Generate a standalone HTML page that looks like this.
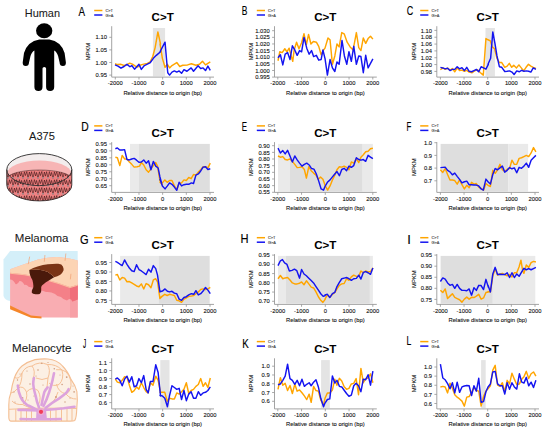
<!DOCTYPE html>
<html><head><meta charset="utf-8"><style>
html,body{margin:0;padding:0;background:#fff;}
svg{display:block;font-family:"Liberation Sans", sans-serif;}
</style></head><body>
<svg width="550" height="434" viewBox="0 0 550 434">
<rect width="550" height="434" fill="#fff"/>
<g id="human">
<text x="42.4" y="16.9" font-size="11" text-anchor="middle" fill="#1a1a1a" stroke="#1a1a1a" stroke-width="0.08" textLength="35.2" lengthAdjust="spacingAndGlyphs">Human</text>
<ellipse cx="44.2" cy="30.75" rx="8.15" ry="7.55" fill="#000"/>
<path d="M39.3,39.6 H49.3 Q61,41.5 64.6,53 L65.9,62.5 Q66,66 62.9,66 Q59.7,66 59.6,62.5 L58.1,56 Q56.6,51.5 54.2,50.5 V87 Q54.2,91 50.15,91 Q46.1,91 46.1,87 V68.4 Q46.1,66.9 44.3,66.9 Q42.5,66.9 42.5,68.4 V87 Q42.5,91 38.45,91 Q34.4,91 34.4,87 V50.5 Q32,51.5 30.5,56 L29,62.5 Q28.9,66 25.7,66 Q22.6,66 22.7,62.5 L24,53 Q27.6,41.5 39.3,39.6 Z" fill="#000"/>
</g>
<g id="a375">
<text x="42" y="139.7" font-size="11" text-anchor="middle" fill="#1a1a1a" stroke="#1a1a1a" stroke-width="0.08" textLength="25.9" lengthAdjust="spacingAndGlyphs">A375</text>
<defs>
<pattern id="cells" width="15" height="8" patternUnits="userSpaceOnUse" x="3" y="171">
<g fill="none" stroke="#3a1414" stroke-width="0.6" stroke-linejoin="miter">
<path d="M0,7.4 L1.4,0.6 L2.6,5 L3.6,1.4 L5,7.4 L6.4,0.8 L7.4,4.6 L8.8,0.5 L10,7.4 L11.4,1 L12.4,5.2 L13.6,0.7 L15,7.4"/>
</g>
<circle cx="5" cy="6.7" r="0.7" fill="#b4bcc6"/><circle cx="10" cy="6.7" r="0.7" fill="#b4bcc6"/><circle cx="0" cy="6.7" r="0.7" fill="#b4bcc6"/><circle cx="15" cy="6.7" r="0.7" fill="#b4bcc6"/>
</pattern>
<clipPath id="dishclip"><path d="M6.8,169.6 A32.5,16 0 0 0 71.8,169.6 V184.9 A32.5,16 0 0 1 6.8,184.9 Z"/></clipPath>
</defs>
<path d="M6.8,169.6 V184.9 A32.5,16 0 0 0 71.8,184.9 V169.6 Z" fill="#f08686"/>
<ellipse cx="39.3" cy="169.6" rx="32.5" ry="16" fill="#f3eded"/>
<ellipse cx="39.3" cy="173" rx="31.8" ry="12.4" fill="#f7b5b5"/>
<path d="M7.5,178.5 A31.8,8.5 0 0 1 71.1,178.5 A31.8,12 0 0 1 7.5,178.5 Z" fill="#ee7e7e"/>
<path d="M7.5,178.5 A31.8,8.5 0 0 1 71.1,178.5 A31.8,12 0 0 1 7.5,178.5 Z" fill="url(#cells)"/>
<path d="M7.5,178.5 A31.8,8.5 0 0 1 71.1,178.5" fill="none" stroke="#3a1a1a" stroke-width="0.6" opacity="0.8"/>
<path d="M6.8,169.6 A32.5,16 0 0 0 71.8,169.6 V184.9 A32.5,16 0 0 1 6.8,184.9 Z" fill="#f08282"/>
<g clip-path="url(#dishclip)">
<rect x="0" y="160" width="80" height="45" fill="url(#cells)"/>
</g>
<ellipse cx="39.3" cy="169.6" rx="32.5" ry="16" fill="none" stroke="#2a2a2a" stroke-width="0.9"/>
<path d="M6.8,169.6 V184.9 A32.5,16 0 0 0 71.8,184.9 V169.6" fill="none" stroke="#2a2a2a" stroke-width="0.9"/>
</g>
<g id="mel">
<text x="41.6" y="241.8" font-size="11.3" text-anchor="middle" fill="#1a1a1a" stroke="#1a1a1a" stroke-width="0.08" textLength="53.5" lengthAdjust="spacingAndGlyphs">Melanoma</text>
<path d="M10.1,251.1 H77.7 V265 L10.3,301 Q5,300.5 3.5,296 V259.5 Z" fill="#d4eff9"/>
<path d="M10.1,269.2 Q25,264 38,259.6 Q50,256.6 60,257.2 Q70,258.2 77.7,260.6 V317.4 H41 L31,316.2 L10.1,306.2 Z" fill="#f9adb2"/>
<path d="M70,287 L77.7,284.7 V317.4 H70 Z" fill="#f7a0a6"/>
<path d="M10.1,305.6 L31,315.6 L41.5,316.6 V318.4 L31,317.8 L10.1,309.2 Z" fill="#f5862a"/>
<path d="M10.1,272.7 Q25,273.5 38,277 Q45,279 50,280.4 Q60,283 70,287 L77.7,284.7 V299.4 L72.5,301.5 Q70,297 67,300.5 Q63,299.5 61,297 Q57,296.5 55,294 Q51,291.5 46,292 Q41,289.5 37,290.5 Q33,286.5 29,287 Q26,284 24.5,285 Q22,280.5 19.5,281 Q17.5,285 15.5,284 Q13,279.5 10.1,279.6 Z" fill="#f48088"/>
<path d="M70,287 L77.7,284.7 V299.4 L72.5,301.5 Q71.5,299 70,298.5 Z" fill="#f06e7a"/>
<path d="M10.1,269.2 Q25,264 38,259.6 Q50,256.6 60,257.2 Q70,258.2 77.7,260.6 V284.7 L70,287 Q60,283 50,280.4 Q45,279 38,277 Q25,273.5 10.1,272.7 Z" fill="#fcd4b4"/>
<path d="M10.1,272.7 Q25,273.5 38,277 Q45,279 50,280.4 Q60,283 70,287 L77.7,284.7 V285.8 L70,288 Q60,284 50,281.4 Q45,280 38,278 Q25,274.5 10.1,273.7 Z" fill="#fbc2a0"/>
<path d="M29.3,270 Q34,269.6 37.5,269.5 Q44,270 47.9,272.1 Q51.5,274.5 54.1,277.3 Q51,279 48.9,280.4 Q45.5,282 43.8,284 Q41.5,285.5 41.2,287.1 V291.3 Q40.8,293.5 39.6,293.9 Q37.5,294.4 35.5,294.2 Q32.5,294 31.8,292.8 Q31.6,290.5 32.4,289.2 Q33.6,287.5 33.4,286.1 Q33.2,282.5 32.4,279.9 Q31,277.5 30.3,275.7 Q29.3,273 29.3,270 Z" fill="#4a190b"/>
<path d="M29.3,270 Q33,267.5 37.5,266.4 Q43,264.8 47.9,264.3 Q54,263.6 58.3,263.8 Q62,264.2 62.9,266.4 Q63.8,268.5 63.5,270.5 Q62.5,273 60.3,274.7 Q57.5,276.5 54.1,277.3 Q51.5,274.5 47.9,272.1 Q44,270 37.5,269.5 Q34,269.6 29.3,270 Z" fill="#7a3315"/>
<g stroke="#f0a072" stroke-width="0.7" fill="none" stroke-linecap="round">
<path d="M28.3,263.8 L29.6,257"/><path d="M44.3,261.4 L44.9,255.4"/><path d="M65.1,260.4 L65.8,253.9"/><path d="M70.4,279 L70.9,274.2"/>
</g>
</g>
<g id="mcyte">
<text x="41.7" y="352.4" font-size="11.5" text-anchor="middle" fill="#1a1a1a" stroke="#1a1a1a" stroke-width="0.08" textLength="59.4" lengthAdjust="spacingAndGlyphs">Melanocyte</text>
<path d="M10.5,421.1 Q8.6,420.5 8.8,416 V405 Q8.6,398 10.8,393 Q12,385 14.5,377.5 Q17.5,370 22,366 Q28,361.5 35,359.6 Q42,358.6 48,359 Q57,359.8 62.5,366 Q67.5,371 71.3,379.9 Q75.5,385.5 76.9,391.5 Q77.8,400 76.8,408 Q76.5,418 74.8,420.4 Q73.5,421.1 70,421.1 Z" fill="#fcf0e4" stroke="#f4be92" stroke-width="1.1"/>
<g fill="none" stroke="#f4be92" stroke-width="0.95">
<path d="M9,409.3 Q40,407.5 76.8,408.5"/>
<path d="M15.8,409.3 V421 M21,409 V421 M26.5,408.8 V421 M31.5,408.6 V421 M50.5,408.4 V421 M56,408.5 V421 M61.5,408.6 V421 M67,408.8 V421 M72,409 V421"/>
<path d="M14.5,377.5 Q19.5,380 22,373 Q25,366.5 32,366 Q36,371 33,379"/>
<path d="M22,373 Q22,383 18,388 Q14,393 10.8,393"/>
<path d="M32,366 Q39,361 47.5,364.5 Q51,370 48,378 Q42,381 36,378"/>
<path d="M47.5,364.5 Q56,364 62,370 Q64.5,379 59,384.5 Q53,387 49,383"/>
<path d="M56.1,369.7 Q68,368 70.9,381 Q72,391 66,394 Q58,392 56.5,384"/>
<path d="M18,388 Q23.5,385 26.5,392 Q28,400 22.5,404.5 Q15.5,405 12,401"/>
<path d="M26.5,392 Q32,386 38,390.5 Q42,398 38.5,404.5"/>
<path d="M48,378 Q48,387 44.5,392.5 M66,394 Q70,399 76.5,399 M58,392 Q56,399 51.5,403.5 M22.5,404.5 Q28,407 31.5,408.6"/>
</g>
<g fill="#c88d6a" opacity="0.85">
<circle cx="17.5" cy="380" r="0.7"/><circle cx="27" cy="371" r="0.6"/><circle cx="38" cy="370" r="0.8"/><circle cx="41.8" cy="363.3" r="0.7"/><circle cx="54.3" cy="368.8" r="0.8"/>
<circle cx="66.7" cy="377.1" r="0.9"/><circle cx="62.1" cy="384.5" r="0.8"/><circle cx="52.9" cy="379.9" r="0.6"/><circle cx="74.1" cy="391.9" r="0.8"/><circle cx="70" cy="398" r="0.6"/>
<circle cx="14" cy="392" r="0.6"/><circle cx="30" cy="384" r="0.7"/><circle cx="43" cy="385" r="0.6"/><circle cx="22.5" cy="398" r="0.9"/><circle cx="34" cy="396" r="0.6"/>
<circle cx="56" cy="397" r="0.9"/><circle cx="65" cy="402" r="0.7"/><circle cx="15" cy="402" r="0.6"/><circle cx="48" cy="362.5" r="0.6"/><circle cx="36" cy="376" r="0.6"/>
<circle cx="20" cy="374" r="0.5"/><circle cx="60" cy="375" r="0.5"/><circle cx="28" cy="400" r="0.5"/><circle cx="47" cy="399" r="0.6"/><circle cx="73" cy="386" r="0.5"/>
</g>
<g fill="none" stroke="#dca2dd" stroke-width="2.6" stroke-linecap="round" stroke-linejoin="round">
<path d="M38,410.5 Q31,406.5 27.5,405.2 Q22.5,401.5 20.6,396.9 Q18.2,391.5 17.8,385.5"/>
<path d="M39,407.5 Q36.5,401 35.5,395.3 Q33.5,389 33.2,384 Q33.3,380.5 33.9,378"/>
<path d="M41.5,405 Q43,397 44.3,392.1 Q46,389 47.6,387.5"/>
<path d="M43.5,406 Q47,399 49.2,392.1 Q51.2,386 52.4,380.8 Q53.3,376.5 54,373.3"/>
<path d="M45.5,408 Q52,402.5 58.9,398.6 Q63.5,395.5 66.9,392.1 Q68,390.5 68.6,389.2"/>
<path d="M18.5,409.9 Q28,409.6 38.7,410.5"/>
<path d="M44.3,410 Q54,409.2 63.7,408.2 Q70,407.4 74.5,406.8"/>
<path d="M20.6,419 Q40,419.6 60.7,419"/>
</g>
<path d="M36.5,410 Q41,406.5 46,410 L47,420 H36 Z" fill="#dca2dd"/>
<circle cx="41" cy="411.8" r="3.4" fill="#eeaad0"/>
<circle cx="41" cy="411.8" r="2.1" fill="#f23c58"/>
</g>

<rect x="152.90" y="28.00" width="12.20" height="48.30" fill="#e4e4e4"/>
<path d="M111.70,26.20V77.10H214.00" fill="none" stroke="#939393" stroke-width="0.85"/>
<path d="M109.30,37.30H111.70" stroke="#939393" stroke-width="0.8"/>
<text transform="translate(106.90,39.45) scale(0.955,1)" x="0" y="0" font-size="6.1" text-anchor="end" fill="#111" stroke="#111" stroke-width="0.1">1.10</text>
<path d="M109.30,49.90H111.70" stroke="#939393" stroke-width="0.8"/>
<text transform="translate(106.90,52.05) scale(0.955,1)" x="0" y="0" font-size="6.1" text-anchor="end" fill="#111" stroke="#111" stroke-width="0.1">1.05</text>
<path d="M109.30,62.50H111.70" stroke="#939393" stroke-width="0.8"/>
<text transform="translate(106.90,64.65) scale(0.955,1)" x="0" y="0" font-size="6.1" text-anchor="end" fill="#111" stroke="#111" stroke-width="0.1">1.00</text>
<path d="M109.30,75.10H111.70" stroke="#939393" stroke-width="0.8"/>
<text transform="translate(106.90,77.25) scale(0.955,1)" x="0" y="0" font-size="6.1" text-anchor="end" fill="#111" stroke="#111" stroke-width="0.1">0.95</text>
<path d="M115.30,77.10V79.50" stroke="#939393" stroke-width="0.8"/>
<text transform="translate(115.30,85.40) scale(0.955,1)" x="0" y="0" font-size="6.1" text-anchor="middle" fill="#111" stroke="#111" stroke-width="0.1">-2000</text>
<path d="M138.97,77.10V79.50" stroke="#939393" stroke-width="0.8"/>
<text transform="translate(138.97,85.40) scale(0.955,1)" x="0" y="0" font-size="6.1" text-anchor="middle" fill="#111" stroke="#111" stroke-width="0.1">-1000</text>
<path d="M162.65,77.10V79.50" stroke="#939393" stroke-width="0.8"/>
<text transform="translate(162.65,85.40) scale(0.955,1)" x="0" y="0" font-size="6.1" text-anchor="middle" fill="#111" stroke="#111" stroke-width="0.1">0</text>
<path d="M186.32,77.10V79.50" stroke="#939393" stroke-width="0.8"/>
<text transform="translate(186.32,85.40) scale(0.955,1)" x="0" y="0" font-size="6.1" text-anchor="middle" fill="#111" stroke="#111" stroke-width="0.1">1000</text>
<path d="M210.00,77.10V79.50" stroke="#939393" stroke-width="0.8"/>
<text transform="translate(210.00,85.40) scale(0.955,1)" x="0" y="0" font-size="6.1" text-anchor="middle" fill="#111" stroke="#111" stroke-width="0.1">2000</text>
<text transform="translate(162.65,94.60) scale(0.955,1)" x="0" y="0" font-size="6.1" text-anchor="middle" fill="#111" stroke="#111" stroke-width="0.1">Relative distance to origin (bp)</text>
<text transform="translate(90.40,51.65) rotate(-90) scale(0.955,1)" x="0" y="0" font-size="6.1" text-anchor="middle" fill="#111" stroke="#111" stroke-width="0.1">MPKM</text>
<text x="162.65" y="21.30" font-size="11.6" text-anchor="middle" font-weight="bold" fill="#000" >C&gt;T</text>
<text transform="translate(78.40,15.50) scale(0.798,1)" x="-0.02" y="0" font-size="12.3" fill="#000" stroke="#000" stroke-width="0.15">A</text>
<path d="M94.20,10.50h8.2" stroke="#ffa500" stroke-width="1.5"/>
<path d="M94.20,15.00h8.2" stroke="#1414f0" stroke-width="1.5"/>
<text x="105.40" y="12.00" font-size="3.9" text-anchor="start" font-weight="normal" fill="#444" stroke="#444" stroke-width="0.12" >C&gt;T</text>
<text x="105.40" y="16.50" font-size="3.9" text-anchor="start" font-weight="normal" fill="#444" stroke="#444" stroke-width="0.12" >G&gt;A</text>
<path d="M115.00,63.74 L117.39,64.58 L120.99,64.34 L123.98,65.54 L126.98,64.58 L129.73,63.14 L132.37,64.10 L135.36,66.14 L137.76,66.98 L140.76,64.94 L143.75,64.10 L147.35,63.38 L150.10,61.95 L152.74,56.55 L155.13,47.57 L157.89,31.99 L160.53,43.97 L160.00,43.96 L162.39,58.33 L165.03,67.31 L167.42,64.31 L169.58,67.91 L171.97,65.51 L176.76,62.52 L179.76,66.47 L182.75,65.27 L187.54,64.91 L191.37,63.72 L195.92,65.27 L199.51,64.31 L202.50,61.32 L205.50,64.91 L210.29,61.92" fill="none" stroke="#ffa500" stroke-width="1.45" stroke-linejoin="round"/>
<path d="M115.00,64.94 L117.99,66.14 L120.99,68.18 L123.98,66.50 L126.98,64.34 L129.97,66.74 L131.77,65.54 L134.53,69.13 L136.56,66.98 L138.96,64.34 L141.36,69.37 L144.35,65.54 L147.35,64.10 L150.34,62.54 L153.34,58.35 L156.33,55.36 L160.53,51.76 L160.00,51.74 L165.03,42.16 L167.18,66.71 L167.78,72.70 L169.58,75.09 L171.97,72.10 L174.37,70.90 L176.76,72.10 L179.16,70.90 L181.55,73.29 L183.95,69.70 L186.94,71.26 L191.13,67.91 L193.52,71.26 L198.07,65.75 L200.71,68.50 L203.10,67.91 L205.50,70.54 L207.89,66.11 L210.29,70.30" fill="none" stroke="#1414f0" stroke-width="1.45" stroke-linejoin="round"/>
<path d="M274.50,26.20V77.10H376.80" fill="none" stroke="#939393" stroke-width="0.85"/>
<path d="M272.10,30.70H274.50" stroke="#939393" stroke-width="0.8"/>
<text transform="translate(269.70,32.85) scale(0.955,1)" x="0" y="0" font-size="6.1" text-anchor="end" fill="#111" stroke="#111" stroke-width="0.1">1.030</text>
<path d="M272.10,37.33H274.50" stroke="#939393" stroke-width="0.8"/>
<text transform="translate(269.70,39.48) scale(0.955,1)" x="0" y="0" font-size="6.1" text-anchor="end" fill="#111" stroke="#111" stroke-width="0.1">1.025</text>
<path d="M272.10,43.96H274.50" stroke="#939393" stroke-width="0.8"/>
<text transform="translate(269.70,46.11) scale(0.955,1)" x="0" y="0" font-size="6.1" text-anchor="end" fill="#111" stroke="#111" stroke-width="0.1">1.020</text>
<path d="M272.10,50.59H274.50" stroke="#939393" stroke-width="0.8"/>
<text transform="translate(269.70,52.74) scale(0.955,1)" x="0" y="0" font-size="6.1" text-anchor="end" fill="#111" stroke="#111" stroke-width="0.1">1.015</text>
<path d="M272.10,57.21H274.50" stroke="#939393" stroke-width="0.8"/>
<text transform="translate(269.70,59.36) scale(0.955,1)" x="0" y="0" font-size="6.1" text-anchor="end" fill="#111" stroke="#111" stroke-width="0.1">1.010</text>
<path d="M272.10,63.84H274.50" stroke="#939393" stroke-width="0.8"/>
<text transform="translate(269.70,65.99) scale(0.955,1)" x="0" y="0" font-size="6.1" text-anchor="end" fill="#111" stroke="#111" stroke-width="0.1">1.005</text>
<path d="M272.10,70.47H274.50" stroke="#939393" stroke-width="0.8"/>
<text transform="translate(269.70,72.62) scale(0.955,1)" x="0" y="0" font-size="6.1" text-anchor="end" fill="#111" stroke="#111" stroke-width="0.1">1.000</text>
<path d="M272.10,77.10H274.50" stroke="#939393" stroke-width="0.8"/>
<text transform="translate(269.70,79.25) scale(0.955,1)" x="0" y="0" font-size="6.1" text-anchor="end" fill="#111" stroke="#111" stroke-width="0.1">0.995</text>
<path d="M277.80,77.10V79.50" stroke="#939393" stroke-width="0.8"/>
<text transform="translate(277.80,85.40) scale(0.955,1)" x="0" y="0" font-size="6.1" text-anchor="middle" fill="#111" stroke="#111" stroke-width="0.1">-2000</text>
<path d="M301.55,77.10V79.50" stroke="#939393" stroke-width="0.8"/>
<text transform="translate(301.55,85.40) scale(0.955,1)" x="0" y="0" font-size="6.1" text-anchor="middle" fill="#111" stroke="#111" stroke-width="0.1">-1000</text>
<path d="M325.30,77.10V79.50" stroke="#939393" stroke-width="0.8"/>
<text transform="translate(325.30,85.40) scale(0.955,1)" x="0" y="0" font-size="6.1" text-anchor="middle" fill="#111" stroke="#111" stroke-width="0.1">0</text>
<path d="M349.05,77.10V79.50" stroke="#939393" stroke-width="0.8"/>
<text transform="translate(349.05,85.40) scale(0.955,1)" x="0" y="0" font-size="6.1" text-anchor="middle" fill="#111" stroke="#111" stroke-width="0.1">1000</text>
<path d="M372.80,77.10V79.50" stroke="#939393" stroke-width="0.8"/>
<text transform="translate(372.80,85.40) scale(0.955,1)" x="0" y="0" font-size="6.1" text-anchor="middle" fill="#111" stroke="#111" stroke-width="0.1">2000</text>
<text transform="translate(325.30,94.60) scale(0.955,1)" x="0" y="0" font-size="6.1" text-anchor="middle" fill="#111" stroke="#111" stroke-width="0.1">Relative distance to origin (bp)</text>
<text transform="translate(252.60,51.65) rotate(-90) scale(0.955,1)" x="0" y="0" font-size="6.1" text-anchor="middle" fill="#111" stroke="#111" stroke-width="0.1">MPKM</text>
<text x="325.30" y="21.30" font-size="11.6" text-anchor="middle" font-weight="bold" fill="#000" >C&gt;T</text>
<text transform="translate(242.40,15.40) scale(0.689,1)" x="-1.01" y="0" font-size="12.3" fill="#000" stroke="#000" stroke-width="0.15">B</text>
<path d="M256.80,10.50h8.2" stroke="#ffa500" stroke-width="1.5"/>
<path d="M256.80,15.00h8.2" stroke="#1414f0" stroke-width="1.5"/>
<text x="268.00" y="12.00" font-size="3.9" text-anchor="start" font-weight="normal" fill="#444" stroke="#444" stroke-width="0.12" >C&gt;T</text>
<text x="268.00" y="16.50" font-size="3.9" text-anchor="start" font-weight="normal" fill="#444" stroke="#444" stroke-width="0.12" >G&gt;A</text>
<path d="M278.00,60.75 L279.79,51.76 L282.19,52.60 L284.83,48.77 L286.98,51.76 L289.14,48.17 L291.18,55.95 L292.73,61.35 L294.17,49.96 L296.57,42.18 L298.96,48.77 L301.60,42.77 L304.00,33.79 L306.39,44.57 L308.55,34.39 L310.95,43.97 L313.34,41.58 L316.34,42.18 L318.73,46.37 L321.13,54.76 L323.53,49.96 L325.00,48.15 L327.99,37.97 L330.03,39.77 L332.42,64.31 L334.82,55.93 L336.97,43.96 L339.13,46.95 L341.76,32.59 L344.16,33.78 L347.15,42.16 L350.14,46.95 L353.14,49.95 L356.37,32.59 L358.76,47.55 L360.92,50.55 L363.31,37.97 L365.71,43.36 L368.10,38.57 L370.50,36.18 L372.89,39.17" fill="none" stroke="#ffa500" stroke-width="1.45" stroke-linejoin="round"/>
<path d="M278.00,57.75 L280.39,54.76 L282.79,64.94 L285.18,54.16 L287.58,52.60 L289.98,59.55 L292.37,45.77 L294.77,49.96 L297.17,55.36 L299.56,50.56 L301.60,51.76 L304.00,37.38 L306.75,48.17 L309.15,54.16 L311.54,50.56 L313.58,56.55 L316.34,55.36 L318.73,60.15 L321.13,59.55 L322.93,49.96 L325.08,58.95 L325.00,58.33 L327.39,75.09 L330.03,59.52 L332.42,67.91 L334.82,71.50 L336.97,61.92 L339.13,64.31 L342.00,40.37 L344.40,55.93 L346.79,64.31 L348.95,51.74 L351.34,61.32 L353.74,46.35 L356.37,64.31 L358.76,55.93 L360.92,56.53 L363.31,72.70 L365.71,55.33 L368.10,67.91 L372.89,58.93" fill="none" stroke="#1414f0" stroke-width="1.45" stroke-linejoin="round"/>
<rect x="485.50" y="28.00" width="9.40" height="48.30" fill="#e4e4e4"/>
<path d="M436.80,26.20V77.10H539.00" fill="none" stroke="#939393" stroke-width="0.85"/>
<path d="M434.40,30.40H436.80" stroke="#939393" stroke-width="0.8"/>
<text transform="translate(432.00,32.55) scale(0.955,1)" x="0" y="0" font-size="6.1" text-anchor="end" fill="#111" stroke="#111" stroke-width="0.1">1.10</text>
<path d="M434.40,37.23H436.80" stroke="#939393" stroke-width="0.8"/>
<text transform="translate(432.00,39.38) scale(0.955,1)" x="0" y="0" font-size="6.1" text-anchor="end" fill="#111" stroke="#111" stroke-width="0.1">1.08</text>
<path d="M434.40,44.07H436.80" stroke="#939393" stroke-width="0.8"/>
<text transform="translate(432.00,46.22) scale(0.955,1)" x="0" y="0" font-size="6.1" text-anchor="end" fill="#111" stroke="#111" stroke-width="0.1">1.06</text>
<path d="M434.40,50.90H436.80" stroke="#939393" stroke-width="0.8"/>
<text transform="translate(432.00,53.05) scale(0.955,1)" x="0" y="0" font-size="6.1" text-anchor="end" fill="#111" stroke="#111" stroke-width="0.1">1.04</text>
<path d="M434.40,57.73H436.80" stroke="#939393" stroke-width="0.8"/>
<text transform="translate(432.00,59.88) scale(0.955,1)" x="0" y="0" font-size="6.1" text-anchor="end" fill="#111" stroke="#111" stroke-width="0.1">1.02</text>
<path d="M434.40,64.57H436.80" stroke="#939393" stroke-width="0.8"/>
<text transform="translate(432.00,66.72) scale(0.955,1)" x="0" y="0" font-size="6.1" text-anchor="end" fill="#111" stroke="#111" stroke-width="0.1">1.00</text>
<path d="M434.40,71.40H436.80" stroke="#939393" stroke-width="0.8"/>
<text transform="translate(432.00,73.55) scale(0.955,1)" x="0" y="0" font-size="6.1" text-anchor="end" fill="#111" stroke="#111" stroke-width="0.1">0.98</text>
<path d="M440.40,77.10V79.50" stroke="#939393" stroke-width="0.8"/>
<text transform="translate(440.40,85.40) scale(0.955,1)" x="0" y="0" font-size="6.1" text-anchor="middle" fill="#111" stroke="#111" stroke-width="0.1">-2000</text>
<path d="M464.05,77.10V79.50" stroke="#939393" stroke-width="0.8"/>
<text transform="translate(464.05,85.40) scale(0.955,1)" x="0" y="0" font-size="6.1" text-anchor="middle" fill="#111" stroke="#111" stroke-width="0.1">-1000</text>
<path d="M487.70,77.10V79.50" stroke="#939393" stroke-width="0.8"/>
<text transform="translate(487.70,85.40) scale(0.955,1)" x="0" y="0" font-size="6.1" text-anchor="middle" fill="#111" stroke="#111" stroke-width="0.1">0</text>
<path d="M511.35,77.10V79.50" stroke="#939393" stroke-width="0.8"/>
<text transform="translate(511.35,85.40) scale(0.955,1)" x="0" y="0" font-size="6.1" text-anchor="middle" fill="#111" stroke="#111" stroke-width="0.1">1000</text>
<path d="M535.00,77.10V79.50" stroke="#939393" stroke-width="0.8"/>
<text transform="translate(535.00,85.40) scale(0.955,1)" x="0" y="0" font-size="6.1" text-anchor="middle" fill="#111" stroke="#111" stroke-width="0.1">2000</text>
<text transform="translate(487.70,94.60) scale(0.955,1)" x="0" y="0" font-size="6.1" text-anchor="middle" fill="#111" stroke="#111" stroke-width="0.1">Relative distance to origin (bp)</text>
<text transform="translate(415.60,51.65) rotate(-90) scale(0.955,1)" x="0" y="0" font-size="6.1" text-anchor="middle" fill="#111" stroke="#111" stroke-width="0.1">MPKM</text>
<text x="487.70" y="21.30" font-size="11.6" text-anchor="middle" font-weight="bold" fill="#000" >C&gt;T</text>
<text transform="translate(407.20,15.40) scale(0.733,1)" x="-0.63" y="0" font-size="12.3" fill="#000" stroke="#000" stroke-width="0.15">C</text>
<path d="M420.20,10.50h8.2" stroke="#ffa500" stroke-width="1.5"/>
<path d="M420.20,15.00h8.2" stroke="#1414f0" stroke-width="1.5"/>
<text x="431.40" y="12.00" font-size="3.9" text-anchor="start" font-weight="normal" fill="#444" stroke="#444" stroke-width="0.12" >C&gt;T</text>
<text x="431.40" y="16.50" font-size="3.9" text-anchor="start" font-weight="normal" fill="#444" stroke="#444" stroke-width="0.12" >G&gt;A</text>
<path d="M440.40,69.73 L442.79,67.94 L445.19,69.37 L447.59,68.18 L449.98,70.09 L452.38,68.54 L454.77,71.77 L457.17,67.94 L459.57,70.57 L461.96,70.09 L464.36,71.29 L466.76,70.33 L469.15,72.13 L472.15,72.73 L474.54,70.93 L477.54,69.73 L480.18,72.49 L483.29,75.13 L485.93,38.58 L488.00,39.77 L490.39,40.97 L492.19,46.95 L494.59,48.75 L496.98,58.33 L499.37,62.52 L501.77,62.52 L504.76,67.31 L507.16,66.11 L509.31,63.36 L511.71,67.31 L513.74,65.27 L516.50,67.91 L518.89,64.91 L521.29,67.91 L523.68,70.90 L526.07,67.31 L528.47,64.31 L530.86,66.11 L533.26,67.31 L535.89,68.50" fill="none" stroke="#ffa500" stroke-width="1.45" stroke-linejoin="round"/>
<path d="M440.40,67.34 L442.79,67.94 L445.19,68.89 L447.59,68.18 L449.98,70.57 L452.38,69.37 L454.77,69.37 L457.17,66.74 L459.57,68.89 L461.96,67.70 L464.36,70.57 L466.76,67.34 L469.15,71.29 L471.55,71.77 L473.95,70.57 L476.34,69.37 L478.74,71.77 L481.13,66.74 L483.53,67.94 L485.93,69.13 L488.32,64.34 L488.00,64.31 L490.63,58.33 L492.79,31.99 L494.94,43.36 L496.98,55.93 L499.37,66.71 L501.77,67.31 L504.76,71.50 L507.16,71.26 L509.55,70.90 L511.95,72.10 L514.10,74.49 L516.74,70.90 L519.37,71.74 L521.52,70.30 L523.92,71.26 L526.31,70.90 L528.71,71.26 L530.86,72.10 L533.26,67.91 L535.89,69.34" fill="none" stroke="#1414f0" stroke-width="1.45" stroke-linejoin="round"/>
<rect x="130.00" y="143.90" width="8.60" height="47.70" fill="#eaeaea"/>
<rect x="138.60" y="143.90" width="71.20" height="47.70" fill="#dedede"/>
<path d="M111.70,142.10V192.40H214.00" fill="none" stroke="#939393" stroke-width="0.85"/>
<path d="M109.30,143.90H111.70" stroke="#939393" stroke-width="0.8"/>
<text transform="translate(106.90,146.05) scale(0.955,1)" x="0" y="0" font-size="6.1" text-anchor="end" fill="#111" stroke="#111" stroke-width="0.1">0.95</text>
<path d="M109.30,150.87H111.70" stroke="#939393" stroke-width="0.8"/>
<text transform="translate(106.90,153.02) scale(0.955,1)" x="0" y="0" font-size="6.1" text-anchor="end" fill="#111" stroke="#111" stroke-width="0.1">0.90</text>
<path d="M109.30,157.83H111.70" stroke="#939393" stroke-width="0.8"/>
<text transform="translate(106.90,159.98) scale(0.955,1)" x="0" y="0" font-size="6.1" text-anchor="end" fill="#111" stroke="#111" stroke-width="0.1">0.85</text>
<path d="M109.30,164.80H111.70" stroke="#939393" stroke-width="0.8"/>
<text transform="translate(106.90,166.95) scale(0.955,1)" x="0" y="0" font-size="6.1" text-anchor="end" fill="#111" stroke="#111" stroke-width="0.1">0.80</text>
<path d="M109.30,171.77H111.70" stroke="#939393" stroke-width="0.8"/>
<text transform="translate(106.90,173.92) scale(0.955,1)" x="0" y="0" font-size="6.1" text-anchor="end" fill="#111" stroke="#111" stroke-width="0.1">0.75</text>
<path d="M109.30,178.73H111.70" stroke="#939393" stroke-width="0.8"/>
<text transform="translate(106.90,180.88) scale(0.955,1)" x="0" y="0" font-size="6.1" text-anchor="end" fill="#111" stroke="#111" stroke-width="0.1">0.70</text>
<path d="M109.30,185.70H111.70" stroke="#939393" stroke-width="0.8"/>
<text transform="translate(106.90,187.85) scale(0.955,1)" x="0" y="0" font-size="6.1" text-anchor="end" fill="#111" stroke="#111" stroke-width="0.1">0.65</text>
<path d="M115.30,192.40V194.80" stroke="#939393" stroke-width="0.8"/>
<text transform="translate(115.30,201.10) scale(0.955,1)" x="0" y="0" font-size="6.1" text-anchor="middle" fill="#111" stroke="#111" stroke-width="0.1">-2000</text>
<path d="M138.97,192.40V194.80" stroke="#939393" stroke-width="0.8"/>
<text transform="translate(138.97,201.10) scale(0.955,1)" x="0" y="0" font-size="6.1" text-anchor="middle" fill="#111" stroke="#111" stroke-width="0.1">-1000</text>
<path d="M162.65,192.40V194.80" stroke="#939393" stroke-width="0.8"/>
<text transform="translate(162.65,201.10) scale(0.955,1)" x="0" y="0" font-size="6.1" text-anchor="middle" fill="#111" stroke="#111" stroke-width="0.1">0</text>
<path d="M186.32,192.40V194.80" stroke="#939393" stroke-width="0.8"/>
<text transform="translate(186.32,201.10) scale(0.955,1)" x="0" y="0" font-size="6.1" text-anchor="middle" fill="#111" stroke="#111" stroke-width="0.1">1000</text>
<path d="M210.00,192.40V194.80" stroke="#939393" stroke-width="0.8"/>
<text transform="translate(210.00,201.10) scale(0.955,1)" x="0" y="0" font-size="6.1" text-anchor="middle" fill="#111" stroke="#111" stroke-width="0.1">2000</text>
<text transform="translate(162.65,210.10) scale(0.955,1)" x="0" y="0" font-size="6.1" text-anchor="middle" fill="#111" stroke="#111" stroke-width="0.1">Relative distance to origin (bp)</text>
<text transform="translate(90.40,167.25) rotate(-90) scale(0.955,1)" x="0" y="0" font-size="6.1" text-anchor="middle" fill="#111" stroke="#111" stroke-width="0.1">MPKM</text>
<text x="162.65" y="136.70" font-size="11.6" text-anchor="middle" font-weight="bold" fill="#000" >C&gt;T</text>
<text transform="translate(82.20,130.60) scale(0.839,1)" x="-1.01" y="0" font-size="12.3" fill="#000" stroke="#000" stroke-width="0.15">D</text>
<path d="M94.20,125.90h8.2" stroke="#ffa500" stroke-width="1.5"/>
<path d="M94.20,130.40h8.2" stroke="#1414f0" stroke-width="1.5"/>
<text x="105.40" y="127.40" font-size="3.9" text-anchor="start" font-weight="normal" fill="#444" stroke="#444" stroke-width="0.12" >C&gt;T</text>
<text x="105.40" y="131.90" font-size="3.9" text-anchor="start" font-weight="normal" fill="#444" stroke="#444" stroke-width="0.12" >G&gt;A</text>
<path d="M115.35,157.18 L117.39,157.77 L119.79,165.56 L122.18,155.38 L124.58,158.97 L126.98,158.97 L129.37,161.97 L131.77,164.36 L134.17,167.12 L137.16,166.76 L139.56,166.16 L141.36,162.57 L143.75,164.96 L146.15,169.76 L148.54,172.15 L150.94,168.80 L153.34,165.56 L155.73,162.57 L157.53,166.16 L159.93,180.54 L162.32,184.73 L160.00,182.31 L162.39,182.91 L164.79,179.91 L167.18,182.31 L169.58,180.51 L171.97,180.51 L174.37,185.90 L176.76,189.49 L179.16,182.91 L181.55,182.91 L183.95,179.91 L186.34,180.51 L188.74,177.52 L191.13,178.72 L193.52,174.52 L195.92,175.12 L198.31,172.13 L200.71,169.74 L203.10,166.74 L205.50,166.74 L207.89,167.94 L210.29,163.15" fill="none" stroke="#ffa500" stroke-width="1.45" stroke-linejoin="round"/>
<path d="M115.35,148.79 L117.39,147.95 L119.79,149.99 L122.18,149.99 L124.58,149.63 L126.98,159.57 L129.37,159.93 L131.77,158.97 L134.17,158.37 L136.56,160.17 L138.96,162.33 L141.36,161.97 L143.75,159.93 L146.15,163.17 L148.54,160.77 L150.94,169.76 L153.34,161.37 L155.73,166.16 L158.13,167.96 L159.93,176.95 L161.72,183.54 L160.00,179.31 L162.39,185.90 L165.03,188.89 L167.42,185.90 L169.58,182.91 L171.97,184.34 L174.37,187.10 L176.76,190.33 L179.16,182.31 L181.55,185.90 L183.95,184.70 L186.34,184.34 L188.74,184.34 L191.37,182.91 L193.52,183.50 L195.92,175.12 L198.31,173.93 L200.71,170.93 L203.10,167.10 L205.50,166.74 L207.89,169.50 L210.29,168.78" fill="none" stroke="#1414f0" stroke-width="1.45" stroke-linejoin="round"/>
<rect x="278.00" y="143.90" width="12.00" height="47.70" fill="#eaeaea"/>
<rect x="290.00" y="143.90" width="72.70" height="47.70" fill="#dedede"/>
<rect x="362.70" y="143.90" width="10.20" height="47.70" fill="#eaeaea"/>
<path d="M274.50,142.10V192.40H376.80" fill="none" stroke="#939393" stroke-width="0.85"/>
<path d="M272.10,145.70H274.50" stroke="#939393" stroke-width="0.8"/>
<text transform="translate(269.70,147.85) scale(0.955,1)" x="0" y="0" font-size="6.1" text-anchor="end" fill="#111" stroke="#111" stroke-width="0.1">0.90</text>
<path d="M272.10,152.36H274.50" stroke="#939393" stroke-width="0.8"/>
<text transform="translate(269.70,154.51) scale(0.955,1)" x="0" y="0" font-size="6.1" text-anchor="end" fill="#111" stroke="#111" stroke-width="0.1">0.85</text>
<path d="M272.10,159.01H274.50" stroke="#939393" stroke-width="0.8"/>
<text transform="translate(269.70,161.16) scale(0.955,1)" x="0" y="0" font-size="6.1" text-anchor="end" fill="#111" stroke="#111" stroke-width="0.1">0.80</text>
<path d="M272.10,165.67H274.50" stroke="#939393" stroke-width="0.8"/>
<text transform="translate(269.70,167.82) scale(0.955,1)" x="0" y="0" font-size="6.1" text-anchor="end" fill="#111" stroke="#111" stroke-width="0.1">0.75</text>
<path d="M272.10,172.33H274.50" stroke="#939393" stroke-width="0.8"/>
<text transform="translate(269.70,174.48) scale(0.955,1)" x="0" y="0" font-size="6.1" text-anchor="end" fill="#111" stroke="#111" stroke-width="0.1">0.70</text>
<path d="M272.10,178.99H274.50" stroke="#939393" stroke-width="0.8"/>
<text transform="translate(269.70,181.14) scale(0.955,1)" x="0" y="0" font-size="6.1" text-anchor="end" fill="#111" stroke="#111" stroke-width="0.1">0.65</text>
<path d="M272.10,185.64H274.50" stroke="#939393" stroke-width="0.8"/>
<text transform="translate(269.70,187.79) scale(0.955,1)" x="0" y="0" font-size="6.1" text-anchor="end" fill="#111" stroke="#111" stroke-width="0.1">0.60</text>
<path d="M272.10,192.30H274.50" stroke="#939393" stroke-width="0.8"/>
<text transform="translate(269.70,194.45) scale(0.955,1)" x="0" y="0" font-size="6.1" text-anchor="end" fill="#111" stroke="#111" stroke-width="0.1">0.55</text>
<path d="M277.80,192.40V194.80" stroke="#939393" stroke-width="0.8"/>
<text transform="translate(277.80,201.10) scale(0.955,1)" x="0" y="0" font-size="6.1" text-anchor="middle" fill="#111" stroke="#111" stroke-width="0.1">-2000</text>
<path d="M301.55,192.40V194.80" stroke="#939393" stroke-width="0.8"/>
<text transform="translate(301.55,201.10) scale(0.955,1)" x="0" y="0" font-size="6.1" text-anchor="middle" fill="#111" stroke="#111" stroke-width="0.1">-1000</text>
<path d="M325.30,192.40V194.80" stroke="#939393" stroke-width="0.8"/>
<text transform="translate(325.30,201.10) scale(0.955,1)" x="0" y="0" font-size="6.1" text-anchor="middle" fill="#111" stroke="#111" stroke-width="0.1">0</text>
<path d="M349.05,192.40V194.80" stroke="#939393" stroke-width="0.8"/>
<text transform="translate(349.05,201.10) scale(0.955,1)" x="0" y="0" font-size="6.1" text-anchor="middle" fill="#111" stroke="#111" stroke-width="0.1">1000</text>
<path d="M372.80,192.40V194.80" stroke="#939393" stroke-width="0.8"/>
<text transform="translate(372.80,201.10) scale(0.955,1)" x="0" y="0" font-size="6.1" text-anchor="middle" fill="#111" stroke="#111" stroke-width="0.1">2000</text>
<text transform="translate(325.30,210.10) scale(0.955,1)" x="0" y="0" font-size="6.1" text-anchor="middle" fill="#111" stroke="#111" stroke-width="0.1">Relative distance to origin (bp)</text>
<text transform="translate(252.60,167.25) rotate(-90) scale(0.955,1)" x="0" y="0" font-size="6.1" text-anchor="middle" fill="#111" stroke="#111" stroke-width="0.1">MPKM</text>
<text x="325.30" y="136.70" font-size="11.6" text-anchor="middle" font-weight="bold" fill="#000" >C&gt;T</text>
<text transform="translate(242.40,130.60) scale(0.646,1)" x="-1.01" y="0" font-size="12.3" fill="#000" stroke="#000" stroke-width="0.15">E</text>
<path d="M256.80,125.90h8.2" stroke="#ffa500" stroke-width="1.5"/>
<path d="M256.80,130.40h8.2" stroke="#1414f0" stroke-width="1.5"/>
<text x="268.00" y="127.40" font-size="3.9" text-anchor="start" font-weight="normal" fill="#444" stroke="#444" stroke-width="0.12" >C&gt;T</text>
<text x="268.00" y="131.90" font-size="3.9" text-anchor="start" font-weight="normal" fill="#444" stroke="#444" stroke-width="0.12" >G&gt;A</text>
<path d="M278.00,155.98 L280.39,157.18 L282.79,156.58 L285.18,159.57 L287.58,159.93 L289.98,158.97 L292.37,161.37 L294.77,164.36 L297.17,167.60 L299.56,167.36 L301.96,166.76 L304.36,169.52 L306.39,178.14 L308.79,166.76 L311.18,170.71 L313.58,173.11 L315.98,175.15 L318.37,179.34 L320.53,176.95 L322.93,179.34 L325.08,185.33 L325.00,185.30 L327.63,190.09 L330.03,185.90 L332.42,179.91 L334.82,175.12 L336.97,169.74 L339.37,166.74 L341.76,167.10 L344.16,166.14 L346.55,167.34 L348.95,169.74 L351.34,161.95 L353.74,163.15 L356.37,158.96 L358.76,162.55 L360.92,157.16 L363.31,154.77 L365.71,151.78 L368.10,151.18 L370.50,148.78 L372.89,148.18" fill="none" stroke="#ffa500" stroke-width="1.45" stroke-linejoin="round"/>
<path d="M278.00,148.19 L280.39,152.98 L282.79,150.59 L285.18,153.94 L287.58,150.35 L289.98,155.98 L292.37,161.97 L294.77,155.98 L297.17,159.93 L299.56,163.17 L301.96,166.16 L304.36,164.36 L306.75,163.17 L309.15,164.96 L311.54,168.56 L313.94,169.16 L316.34,173.95 L318.73,181.14 L321.13,188.93 L323.53,190.13 L325.00,186.50 L327.39,182.31 L330.03,179.91 L332.42,176.92 L334.82,173.93 L336.97,171.53 L339.37,175.72 L341.76,169.50 L344.16,168.30 L346.55,170.69 L348.95,166.14 L351.34,167.34 L353.74,165.55 L356.37,157.76 L358.76,159.56 L360.92,160.16 L363.31,159.56 L365.71,161.35 L368.10,155.37 L370.50,157.16 L372.89,158.72" fill="none" stroke="#1414f0" stroke-width="1.45" stroke-linejoin="round"/>
<rect x="440.60" y="143.90" width="67.80" height="47.70" fill="#dedede"/>
<rect x="508.40" y="143.90" width="19.70" height="47.70" fill="#eaeaea"/>
<path d="M436.80,142.10V192.40H539.00" fill="none" stroke="#939393" stroke-width="0.85"/>
<path d="M434.40,142.70H436.80" stroke="#939393" stroke-width="0.8"/>
<text transform="translate(432.00,144.85) scale(0.955,1)" x="0" y="0" font-size="6.1" text-anchor="end" fill="#111" stroke="#111" stroke-width="0.1">1.0</text>
<path d="M434.40,155.40H436.80" stroke="#939393" stroke-width="0.8"/>
<text transform="translate(432.00,157.55) scale(0.955,1)" x="0" y="0" font-size="6.1" text-anchor="end" fill="#111" stroke="#111" stroke-width="0.1">0.9</text>
<path d="M434.40,168.10H436.80" stroke="#939393" stroke-width="0.8"/>
<text transform="translate(432.00,170.25) scale(0.955,1)" x="0" y="0" font-size="6.1" text-anchor="end" fill="#111" stroke="#111" stroke-width="0.1">0.8</text>
<path d="M434.40,180.80H436.80" stroke="#939393" stroke-width="0.8"/>
<text transform="translate(432.00,182.95) scale(0.955,1)" x="0" y="0" font-size="6.1" text-anchor="end" fill="#111" stroke="#111" stroke-width="0.1">0.7</text>
<path d="M440.40,192.40V194.80" stroke="#939393" stroke-width="0.8"/>
<text transform="translate(440.40,201.10) scale(0.955,1)" x="0" y="0" font-size="6.1" text-anchor="middle" fill="#111" stroke="#111" stroke-width="0.1">-2000</text>
<path d="M464.05,192.40V194.80" stroke="#939393" stroke-width="0.8"/>
<text transform="translate(464.05,201.10) scale(0.955,1)" x="0" y="0" font-size="6.1" text-anchor="middle" fill="#111" stroke="#111" stroke-width="0.1">-1000</text>
<path d="M487.70,192.40V194.80" stroke="#939393" stroke-width="0.8"/>
<text transform="translate(487.70,201.10) scale(0.955,1)" x="0" y="0" font-size="6.1" text-anchor="middle" fill="#111" stroke="#111" stroke-width="0.1">0</text>
<path d="M511.35,192.40V194.80" stroke="#939393" stroke-width="0.8"/>
<text transform="translate(511.35,201.10) scale(0.955,1)" x="0" y="0" font-size="6.1" text-anchor="middle" fill="#111" stroke="#111" stroke-width="0.1">1000</text>
<path d="M535.00,192.40V194.80" stroke="#939393" stroke-width="0.8"/>
<text transform="translate(535.00,201.10) scale(0.955,1)" x="0" y="0" font-size="6.1" text-anchor="middle" fill="#111" stroke="#111" stroke-width="0.1">2000</text>
<text transform="translate(487.70,210.10) scale(0.955,1)" x="0" y="0" font-size="6.1" text-anchor="middle" fill="#111" stroke="#111" stroke-width="0.1">Relative distance to origin (bp)</text>
<text transform="translate(415.60,167.25) rotate(-90) scale(0.955,1)" x="0" y="0" font-size="6.1" text-anchor="middle" fill="#111" stroke="#111" stroke-width="0.1">MPKM</text>
<text x="487.70" y="136.70" font-size="11.6" text-anchor="middle" font-weight="bold" fill="#000" >C&gt;T</text>
<text transform="translate(407.10,130.60) scale(0.633,1)" x="-1.01" y="0" font-size="12.3" fill="#000" stroke="#000" stroke-width="0.15">F</text>
<path d="M420.20,125.90h8.2" stroke="#ffa500" stroke-width="1.5"/>
<path d="M420.20,130.40h8.2" stroke="#1414f0" stroke-width="1.5"/>
<text x="431.40" y="127.40" font-size="3.9" text-anchor="start" font-weight="normal" fill="#444" stroke="#444" stroke-width="0.12" >C&gt;T</text>
<text x="431.40" y="131.90" font-size="3.9" text-anchor="start" font-weight="normal" fill="#444" stroke="#444" stroke-width="0.12" >G&gt;A</text>
<path d="M440.40,169.76 L442.79,172.39 L445.19,168.56 L447.59,174.55 L449.98,179.94 L452.38,179.94 L454.77,180.54 L457.17,184.13 L459.57,179.94 L461.96,184.73 L464.36,188.93 L466.76,185.33 L469.15,187.73 L471.55,182.34 L473.95,184.13 L476.34,183.54 L478.74,187.13 L481.13,188.33 L483.53,190.13 L485.93,183.54 L488.00,185.30 L490.39,186.50 L492.79,170.33 L495.18,173.33 L497.58,169.74 L499.97,164.35 L502.37,169.74 L504.76,171.53 L507.16,169.14 L509.55,168.54 L511.95,160.16 L514.34,164.35 L516.74,164.35 L519.13,158.36 L521.52,157.76 L523.92,156.57 L526.31,155.37 L528.71,156.57 L531.10,152.97 L533.50,147.59 L535.89,151.78" fill="none" stroke="#ffa500" stroke-width="1.45" stroke-linejoin="round"/>
<path d="M440.40,167.60 L442.79,167.36 L445.19,167.12 L447.59,170.36 L449.98,171.91 L452.38,174.79 L454.77,173.11 L457.17,176.35 L459.57,179.34 L461.96,182.94 L464.36,181.74 L466.76,181.14 L469.15,184.73 L471.55,184.73 L473.95,185.09 L476.34,185.09 L478.74,185.93 L481.13,188.93 L483.29,190.13 L485.93,179.10 L488.00,181.71 L490.39,184.10 L492.79,174.52 L495.18,168.54 L497.58,169.74 L499.97,167.94 L502.37,166.14 L504.76,172.13 L507.16,170.33 L509.55,167.58 L511.95,168.78 L514.34,167.94 L516.74,172.73 L519.13,167.34 L521.52,168.30 L523.92,166.14 L526.31,163.15 L528.71,167.34 L531.10,160.16 L533.50,157.76 L535.89,155.37" fill="none" stroke="#1414f0" stroke-width="1.45" stroke-linejoin="round"/>
<rect x="120.10" y="255.90" width="38.40" height="47.70" fill="#eaeaea"/>
<rect x="158.50" y="255.90" width="51.20" height="47.70" fill="#dedede"/>
<path d="M111.70,254.10V304.40H214.00" fill="none" stroke="#939393" stroke-width="0.85"/>
<path d="M109.30,262.50H111.70" stroke="#939393" stroke-width="0.8"/>
<text transform="translate(106.90,264.65) scale(0.955,1)" x="0" y="0" font-size="6.1" text-anchor="end" fill="#111" stroke="#111" stroke-width="0.1">0.95</text>
<path d="M109.30,271.98H111.70" stroke="#939393" stroke-width="0.8"/>
<text transform="translate(106.90,274.12) scale(0.955,1)" x="0" y="0" font-size="6.1" text-anchor="end" fill="#111" stroke="#111" stroke-width="0.1">0.90</text>
<path d="M109.30,281.45H111.70" stroke="#939393" stroke-width="0.8"/>
<text transform="translate(106.90,283.60) scale(0.955,1)" x="0" y="0" font-size="6.1" text-anchor="end" fill="#111" stroke="#111" stroke-width="0.1">0.85</text>
<path d="M109.30,290.92H111.70" stroke="#939393" stroke-width="0.8"/>
<text transform="translate(106.90,293.07) scale(0.955,1)" x="0" y="0" font-size="6.1" text-anchor="end" fill="#111" stroke="#111" stroke-width="0.1">0.80</text>
<path d="M109.30,300.40H111.70" stroke="#939393" stroke-width="0.8"/>
<text transform="translate(106.90,302.55) scale(0.955,1)" x="0" y="0" font-size="6.1" text-anchor="end" fill="#111" stroke="#111" stroke-width="0.1">0.75</text>
<path d="M115.30,304.40V306.80" stroke="#939393" stroke-width="0.8"/>
<text transform="translate(115.30,313.10) scale(0.955,1)" x="0" y="0" font-size="6.1" text-anchor="middle" fill="#111" stroke="#111" stroke-width="0.1">-2000</text>
<path d="M138.97,304.40V306.80" stroke="#939393" stroke-width="0.8"/>
<text transform="translate(138.97,313.10) scale(0.955,1)" x="0" y="0" font-size="6.1" text-anchor="middle" fill="#111" stroke="#111" stroke-width="0.1">-1000</text>
<path d="M162.65,304.40V306.80" stroke="#939393" stroke-width="0.8"/>
<text transform="translate(162.65,313.10) scale(0.955,1)" x="0" y="0" font-size="6.1" text-anchor="middle" fill="#111" stroke="#111" stroke-width="0.1">0</text>
<path d="M186.32,304.40V306.80" stroke="#939393" stroke-width="0.8"/>
<text transform="translate(186.32,313.10) scale(0.955,1)" x="0" y="0" font-size="6.1" text-anchor="middle" fill="#111" stroke="#111" stroke-width="0.1">1000</text>
<path d="M210.00,304.40V306.80" stroke="#939393" stroke-width="0.8"/>
<text transform="translate(210.00,313.10) scale(0.955,1)" x="0" y="0" font-size="6.1" text-anchor="middle" fill="#111" stroke="#111" stroke-width="0.1">2000</text>
<text transform="translate(162.65,322.10) scale(0.955,1)" x="0" y="0" font-size="6.1" text-anchor="middle" fill="#111" stroke="#111" stroke-width="0.1">Relative distance to origin (bp)</text>
<text transform="translate(90.40,279.25) rotate(-90) scale(0.955,1)" x="0" y="0" font-size="6.1" text-anchor="middle" fill="#111" stroke="#111" stroke-width="0.1">MPKM</text>
<text x="162.65" y="248.70" font-size="11.6" text-anchor="middle" font-weight="bold" fill="#000" >C&gt;T</text>
<text transform="translate(80.50,243.50) scale(0.898,1)" x="-0.61" y="0" font-size="12.3" fill="#000" stroke="#000" stroke-width="0.15">G</text>
<path d="M94.20,237.70h8.2" stroke="#ffa500" stroke-width="1.5"/>
<path d="M94.20,242.20h8.2" stroke="#1414f0" stroke-width="1.5"/>
<text x="105.40" y="239.20" font-size="3.9" text-anchor="start" font-weight="normal" fill="#444" stroke="#444" stroke-width="0.12" >C&gt;T</text>
<text x="105.40" y="243.70" font-size="3.9" text-anchor="start" font-weight="normal" fill="#444" stroke="#444" stroke-width="0.12" >G&gt;A</text>
<path d="M115.35,275.17 L117.39,274.57 L119.79,279.96 L122.18,277.56 L124.58,278.16 L126.98,281.76 L129.37,281.52 L131.77,282.95 L134.17,284.39 L136.56,285.95 L138.96,286.79 L141.36,283.91 L143.75,288.95 L146.15,283.55 L148.54,284.75 L150.94,287.75 L153.34,279.96 L155.73,278.76 L157.53,281.76 L159.93,298.53 L162.32,296.13 L160.00,297.90 L162.39,296.10 L164.79,294.31 L167.18,295.50 L169.58,294.31 L171.97,294.91 L174.37,295.50 L176.76,300.29 L179.16,300.89 L181.55,302.33 L183.95,299.10 L186.34,297.90 L188.74,296.34 L191.37,296.10 L193.76,295.50 L195.92,293.71 L198.31,291.91 L200.71,289.52 L203.10,288.92 L205.50,289.52 L207.89,288.92 L210.29,287.48" fill="none" stroke="#ffa500" stroke-width="1.45" stroke-linejoin="round"/>
<path d="M115.35,261.39 L117.39,262.35 L119.79,264.02 L122.18,265.58 L124.58,259.95 L126.98,264.38 L129.37,267.98 L131.77,270.73 L134.17,271.57 L136.56,264.74 L138.96,269.53 L141.36,270.97 L143.75,272.77 L146.15,274.57 L148.54,269.18 L150.94,272.17 L153.34,265.58 L155.73,268.58 L157.53,275.17 L159.93,291.94 L162.32,291.10 L160.00,291.31 L162.39,291.07 L165.03,288.92 L167.42,291.31 L169.58,291.91 L171.97,291.31 L174.37,293.11 L176.76,293.71 L179.16,299.10 L181.55,300.29 L183.95,297.54 L186.34,296.70 L188.74,294.91 L191.37,293.71 L193.76,294.31 L195.92,290.72 L198.31,294.91 L200.71,293.71 L203.10,291.07 L205.50,287.48 L207.89,290.12 L210.29,293.71" fill="none" stroke="#1414f0" stroke-width="1.45" stroke-linejoin="round"/>
<rect x="278.00" y="255.90" width="8.00" height="47.70" fill="#eaeaea"/>
<rect x="286.00" y="255.90" width="83.90" height="47.70" fill="#dedede"/>
<rect x="369.90" y="255.90" width="3.00" height="47.70" fill="#eaeaea"/>
<path d="M274.50,254.10V304.40H376.80" fill="none" stroke="#939393" stroke-width="0.85"/>
<path d="M272.10,255.10H274.50" stroke="#939393" stroke-width="0.8"/>
<text transform="translate(269.70,257.25) scale(0.955,1)" x="0" y="0" font-size="6.1" text-anchor="end" fill="#111" stroke="#111" stroke-width="0.1">0.95</text>
<path d="M272.10,264.34H274.50" stroke="#939393" stroke-width="0.8"/>
<text transform="translate(269.70,266.49) scale(0.955,1)" x="0" y="0" font-size="6.1" text-anchor="end" fill="#111" stroke="#111" stroke-width="0.1">0.90</text>
<path d="M272.10,273.58H274.50" stroke="#939393" stroke-width="0.8"/>
<text transform="translate(269.70,275.73) scale(0.955,1)" x="0" y="0" font-size="6.1" text-anchor="end" fill="#111" stroke="#111" stroke-width="0.1">0.85</text>
<path d="M272.10,282.82H274.50" stroke="#939393" stroke-width="0.8"/>
<text transform="translate(269.70,284.97) scale(0.955,1)" x="0" y="0" font-size="6.1" text-anchor="end" fill="#111" stroke="#111" stroke-width="0.1">0.80</text>
<path d="M272.10,292.06H274.50" stroke="#939393" stroke-width="0.8"/>
<text transform="translate(269.70,294.21) scale(0.955,1)" x="0" y="0" font-size="6.1" text-anchor="end" fill="#111" stroke="#111" stroke-width="0.1">0.75</text>
<path d="M272.10,301.30H274.50" stroke="#939393" stroke-width="0.8"/>
<text transform="translate(269.70,303.45) scale(0.955,1)" x="0" y="0" font-size="6.1" text-anchor="end" fill="#111" stroke="#111" stroke-width="0.1">0.70</text>
<path d="M277.80,304.40V306.80" stroke="#939393" stroke-width="0.8"/>
<text transform="translate(277.80,313.10) scale(0.955,1)" x="0" y="0" font-size="6.1" text-anchor="middle" fill="#111" stroke="#111" stroke-width="0.1">-2000</text>
<path d="M301.55,304.40V306.80" stroke="#939393" stroke-width="0.8"/>
<text transform="translate(301.55,313.10) scale(0.955,1)" x="0" y="0" font-size="6.1" text-anchor="middle" fill="#111" stroke="#111" stroke-width="0.1">-1000</text>
<path d="M325.30,304.40V306.80" stroke="#939393" stroke-width="0.8"/>
<text transform="translate(325.30,313.10) scale(0.955,1)" x="0" y="0" font-size="6.1" text-anchor="middle" fill="#111" stroke="#111" stroke-width="0.1">0</text>
<path d="M349.05,304.40V306.80" stroke="#939393" stroke-width="0.8"/>
<text transform="translate(349.05,313.10) scale(0.955,1)" x="0" y="0" font-size="6.1" text-anchor="middle" fill="#111" stroke="#111" stroke-width="0.1">1000</text>
<path d="M372.80,304.40V306.80" stroke="#939393" stroke-width="0.8"/>
<text transform="translate(372.80,313.10) scale(0.955,1)" x="0" y="0" font-size="6.1" text-anchor="middle" fill="#111" stroke="#111" stroke-width="0.1">2000</text>
<text transform="translate(325.30,322.10) scale(0.955,1)" x="0" y="0" font-size="6.1" text-anchor="middle" fill="#111" stroke="#111" stroke-width="0.1">Relative distance to origin (bp)</text>
<text transform="translate(252.60,279.25) rotate(-90) scale(0.955,1)" x="0" y="0" font-size="6.1" text-anchor="middle" fill="#111" stroke="#111" stroke-width="0.1">MPKM</text>
<text x="325.30" y="248.70" font-size="11.6" text-anchor="middle" font-weight="bold" fill="#000" >C&gt;T</text>
<text transform="translate(241.50,243.30) scale(0.903,1)" x="-1.01" y="0" font-size="12.3" fill="#000" stroke="#000" stroke-width="0.15">H</text>
<path d="M256.80,237.70h8.2" stroke="#ffa500" stroke-width="1.5"/>
<path d="M256.80,242.20h8.2" stroke="#1414f0" stroke-width="1.5"/>
<text x="268.00" y="239.20" font-size="3.9" text-anchor="start" font-weight="normal" fill="#444" stroke="#444" stroke-width="0.12" >C&gt;T</text>
<text x="268.00" y="243.70" font-size="3.9" text-anchor="start" font-weight="normal" fill="#444" stroke="#444" stroke-width="0.12" >G&gt;A</text>
<path d="M278.00,278.76 L280.39,275.53 L282.79,278.76 L285.18,277.92 L287.58,277.56 L289.98,279.96 L292.37,282.95 L294.77,283.91 L297.17,283.91 L299.56,283.19 L301.60,282.00 L304.00,284.75 L306.39,280.80 L308.79,283.91 L311.18,287.15 L313.58,287.99 L315.98,291.94 L318.37,296.73 L320.77,300.33 L322.93,302.36 L325.32,299.13 L325.00,299.10 L327.39,294.91 L329.79,297.30 L332.42,294.31 L334.82,292.51 L336.97,288.92 L339.37,285.33 L341.76,283.89 L344.16,283.53 L346.55,278.74 L348.95,280.30 L351.34,276.95 L353.74,275.15 L356.37,276.35 L358.76,276.35 L360.92,270.96 L363.31,272.76 L365.71,270.96 L368.10,271.92 L370.50,271.56 L372.89,267.97" fill="none" stroke="#ffa500" stroke-width="1.45" stroke-linejoin="round"/>
<path d="M278.00,265.58 L280.39,260.79 L282.43,259.59 L284.59,262.83 L286.98,264.38 L289.38,270.97 L292.01,270.37 L294.41,269.18 L296.81,270.73 L299.56,278.16 L301.60,269.53 L304.00,273.97 L306.39,275.77 L308.79,278.16 L311.18,280.56 L313.58,282.95 L315.98,286.55 L318.37,290.14 L320.77,293.74 L323.17,296.37 L325.32,295.54 L325.00,294.91 L327.39,294.31 L329.79,297.54 L332.42,293.71 L334.82,292.27 L336.97,286.52 L339.37,282.33 L341.76,278.74 L344.16,278.14 L346.79,277.55 L348.95,278.74 L351.34,280.30 L353.74,278.74 L356.37,278.38 L358.76,275.15 L360.92,279.10 L363.31,272.40 L365.71,271.56 L368.10,272.76 L370.50,274.31 L372.89,267.97" fill="none" stroke="#1414f0" stroke-width="1.45" stroke-linejoin="round"/>
<rect x="440.60" y="255.90" width="52.20" height="47.70" fill="#dedede"/>
<rect x="492.80" y="255.90" width="42.50" height="47.70" fill="#eaeaea"/>
<path d="M436.80,254.10V304.40H539.00" fill="none" stroke="#939393" stroke-width="0.85"/>
<path d="M434.40,255.10H436.80" stroke="#939393" stroke-width="0.8"/>
<text transform="translate(432.00,257.25) scale(0.955,1)" x="0" y="0" font-size="6.1" text-anchor="end" fill="#111" stroke="#111" stroke-width="0.1">0.95</text>
<path d="M434.40,266.18H436.80" stroke="#939393" stroke-width="0.8"/>
<text transform="translate(432.00,268.32) scale(0.955,1)" x="0" y="0" font-size="6.1" text-anchor="end" fill="#111" stroke="#111" stroke-width="0.1">0.90</text>
<path d="M434.40,277.25H436.80" stroke="#939393" stroke-width="0.8"/>
<text transform="translate(432.00,279.40) scale(0.955,1)" x="0" y="0" font-size="6.1" text-anchor="end" fill="#111" stroke="#111" stroke-width="0.1">0.85</text>
<path d="M434.40,288.32H436.80" stroke="#939393" stroke-width="0.8"/>
<text transform="translate(432.00,290.47) scale(0.955,1)" x="0" y="0" font-size="6.1" text-anchor="end" fill="#111" stroke="#111" stroke-width="0.1">0.80</text>
<path d="M434.40,299.40H436.80" stroke="#939393" stroke-width="0.8"/>
<text transform="translate(432.00,301.55) scale(0.955,1)" x="0" y="0" font-size="6.1" text-anchor="end" fill="#111" stroke="#111" stroke-width="0.1">0.75</text>
<path d="M440.40,304.40V306.80" stroke="#939393" stroke-width="0.8"/>
<text transform="translate(440.40,313.10) scale(0.955,1)" x="0" y="0" font-size="6.1" text-anchor="middle" fill="#111" stroke="#111" stroke-width="0.1">-2000</text>
<path d="M464.05,304.40V306.80" stroke="#939393" stroke-width="0.8"/>
<text transform="translate(464.05,313.10) scale(0.955,1)" x="0" y="0" font-size="6.1" text-anchor="middle" fill="#111" stroke="#111" stroke-width="0.1">-1000</text>
<path d="M487.70,304.40V306.80" stroke="#939393" stroke-width="0.8"/>
<text transform="translate(487.70,313.10) scale(0.955,1)" x="0" y="0" font-size="6.1" text-anchor="middle" fill="#111" stroke="#111" stroke-width="0.1">0</text>
<path d="M511.35,304.40V306.80" stroke="#939393" stroke-width="0.8"/>
<text transform="translate(511.35,313.10) scale(0.955,1)" x="0" y="0" font-size="6.1" text-anchor="middle" fill="#111" stroke="#111" stroke-width="0.1">1000</text>
<path d="M535.00,304.40V306.80" stroke="#939393" stroke-width="0.8"/>
<text transform="translate(535.00,313.10) scale(0.955,1)" x="0" y="0" font-size="6.1" text-anchor="middle" fill="#111" stroke="#111" stroke-width="0.1">2000</text>
<text transform="translate(487.70,322.10) scale(0.955,1)" x="0" y="0" font-size="6.1" text-anchor="middle" fill="#111" stroke="#111" stroke-width="0.1">Relative distance to origin (bp)</text>
<text transform="translate(415.60,279.25) rotate(-90) scale(0.955,1)" x="0" y="0" font-size="6.1" text-anchor="middle" fill="#111" stroke="#111" stroke-width="0.1">MPKM</text>
<text x="487.70" y="248.70" font-size="11.6" text-anchor="middle" font-weight="bold" fill="#000" >C&gt;T</text>
<text transform="translate(408.50,243.50) scale(1.049,1)" x="-1.13" y="0" font-size="12.3" fill="#000" stroke="#000" stroke-width="0.15">I</text>
<path d="M420.20,237.70h8.2" stroke="#ffa500" stroke-width="1.5"/>
<path d="M420.20,242.20h8.2" stroke="#1414f0" stroke-width="1.5"/>
<text x="431.40" y="239.20" font-size="3.9" text-anchor="start" font-weight="normal" fill="#444" stroke="#444" stroke-width="0.12" >C&gt;T</text>
<text x="431.40" y="243.70" font-size="3.9" text-anchor="start" font-weight="normal" fill="#444" stroke="#444" stroke-width="0.12" >G&gt;A</text>
<path d="M440.40,290.14 L442.79,292.54 L445.19,288.95 L447.59,298.53 L449.98,296.13 L452.38,293.74 L454.77,297.33 L457.17,298.53 L459.57,299.73 L461.96,302.13 L464.36,299.13 L466.76,297.09 L469.15,299.13 L471.55,297.33 L473.95,297.57 L476.34,296.13 L478.74,294.34 L481.13,299.13 L483.53,297.93 L485.93,292.54 L488.32,291.94 L488.00,291.55 L490.39,291.91 L492.79,276.35 L495.18,268.57 L497.58,275.15 L499.97,273.95 L502.37,273.35 L504.76,274.55 L507.16,275.75 L509.55,274.55 L511.95,276.95 L514.34,272.76 L516.74,272.76 L519.13,266.77 L520.93,260.18 L522.72,270.96 L523.92,273.35 L526.31,264.97 L528.71,267.37 L531.10,262.58 L533.50,261.38 L535.89,261.98" fill="none" stroke="#ffa500" stroke-width="1.45" stroke-linejoin="round"/>
<path d="M440.40,281.52 L442.79,277.92 L445.19,279.12 L447.59,282.95 L449.98,285.35 L452.38,284.39 L454.77,288.35 L457.17,284.39 L459.57,288.35 L461.96,290.38 L464.36,290.38 L466.76,290.74 L469.15,288.95 L471.55,295.18 L473.95,287.75 L476.34,290.38 L478.74,285.35 L481.13,285.59 L483.53,289.54 L485.93,279.36 L488.32,287.15 L488.00,285.33 L490.39,291.91 L492.79,273.95 L495.18,267.37 L497.58,274.55 L499.97,274.31 L502.37,274.55 L504.76,274.55 L507.16,272.76 L509.55,277.55 L511.95,272.76 L514.34,277.55 L516.74,273.95 L519.13,276.35 L521.52,272.16 L523.92,268.33 L526.31,269.76 L528.71,268.57 L531.10,269.76 L533.50,268.57 L535.89,267.37" fill="none" stroke="#1414f0" stroke-width="1.45" stroke-linejoin="round"/>
<rect x="160.30" y="360.10" width="9.20" height="48.00" fill="#e4e4e4"/>
<path d="M111.70,358.30V408.90H214.00" fill="none" stroke="#939393" stroke-width="0.85"/>
<path d="M109.30,362.50H111.70" stroke="#939393" stroke-width="0.8"/>
<text transform="translate(106.90,364.65) scale(0.955,1)" x="0" y="0" font-size="6.1" text-anchor="end" fill="#111" stroke="#111" stroke-width="0.1">1.1</text>
<path d="M109.30,370.52H111.70" stroke="#939393" stroke-width="0.8"/>
<text transform="translate(106.90,372.67) scale(0.955,1)" x="0" y="0" font-size="6.1" text-anchor="end" fill="#111" stroke="#111" stroke-width="0.1">1.0</text>
<path d="M109.30,378.54H111.70" stroke="#939393" stroke-width="0.8"/>
<text transform="translate(106.90,380.69) scale(0.955,1)" x="0" y="0" font-size="6.1" text-anchor="end" fill="#111" stroke="#111" stroke-width="0.1">0.9</text>
<path d="M109.30,386.56H111.70" stroke="#939393" stroke-width="0.8"/>
<text transform="translate(106.90,388.71) scale(0.955,1)" x="0" y="0" font-size="6.1" text-anchor="end" fill="#111" stroke="#111" stroke-width="0.1">0.8</text>
<path d="M109.30,394.58H111.70" stroke="#939393" stroke-width="0.8"/>
<text transform="translate(106.90,396.73) scale(0.955,1)" x="0" y="0" font-size="6.1" text-anchor="end" fill="#111" stroke="#111" stroke-width="0.1">0.7</text>
<path d="M109.30,402.60H111.70" stroke="#939393" stroke-width="0.8"/>
<text transform="translate(106.90,404.75) scale(0.955,1)" x="0" y="0" font-size="6.1" text-anchor="end" fill="#111" stroke="#111" stroke-width="0.1">0.6</text>
<path d="M115.30,408.90V411.30" stroke="#939393" stroke-width="0.8"/>
<text transform="translate(115.30,417.10) scale(0.955,1)" x="0" y="0" font-size="6.1" text-anchor="middle" fill="#111" stroke="#111" stroke-width="0.1">-2000</text>
<path d="M138.97,408.90V411.30" stroke="#939393" stroke-width="0.8"/>
<text transform="translate(138.97,417.10) scale(0.955,1)" x="0" y="0" font-size="6.1" text-anchor="middle" fill="#111" stroke="#111" stroke-width="0.1">-1000</text>
<path d="M162.65,408.90V411.30" stroke="#939393" stroke-width="0.8"/>
<text transform="translate(162.65,417.10) scale(0.955,1)" x="0" y="0" font-size="6.1" text-anchor="middle" fill="#111" stroke="#111" stroke-width="0.1">0</text>
<path d="M186.32,408.90V411.30" stroke="#939393" stroke-width="0.8"/>
<text transform="translate(186.32,417.10) scale(0.955,1)" x="0" y="0" font-size="6.1" text-anchor="middle" fill="#111" stroke="#111" stroke-width="0.1">1000</text>
<path d="M210.00,408.90V411.30" stroke="#939393" stroke-width="0.8"/>
<text transform="translate(210.00,417.10) scale(0.955,1)" x="0" y="0" font-size="6.1" text-anchor="middle" fill="#111" stroke="#111" stroke-width="0.1">2000</text>
<text transform="translate(162.65,426.40) scale(0.955,1)" x="0" y="0" font-size="6.1" text-anchor="middle" fill="#111" stroke="#111" stroke-width="0.1">Relative distance to origin (bp)</text>
<text transform="translate(90.40,383.60) rotate(-90) scale(0.955,1)" x="0" y="0" font-size="6.1" text-anchor="middle" fill="#111" stroke="#111" stroke-width="0.1">MPKM</text>
<text x="162.65" y="353.00" font-size="11.6" text-anchor="middle" font-weight="bold" fill="#000" >C&gt;T</text>
<text transform="translate(83.10,347.50) scale(0.517,1)" x="-0.20" y="0" font-size="12.3" fill="#000" stroke="#000" stroke-width="0.15">J</text>
<path d="M94.20,341.60h8.2" stroke="#ffa500" stroke-width="1.5"/>
<path d="M94.20,346.10h8.2" stroke="#1414f0" stroke-width="1.5"/>
<text x="105.40" y="343.10" font-size="3.9" text-anchor="start" font-weight="normal" fill="#444" stroke="#444" stroke-width="0.12" >C&gt;T</text>
<text x="105.40" y="347.60" font-size="3.9" text-anchor="start" font-weight="normal" fill="#444" stroke="#444" stroke-width="0.12" >G&gt;A</text>
<path d="M115.35,379.17 L117.39,382.16 L119.79,382.76 L122.18,380.36 L124.58,376.77 L126.98,377.37 L129.37,385.16 L131.77,392.35 L134.17,390.55 L136.56,386.95 L138.96,389.11 L141.36,382.76 L143.75,387.55 L146.15,391.75 L147.95,392.95 L150.34,382.76 L152.98,385.16 L155.73,376.17 L158.13,380.36 L160.53,392.35 L160.00,392.32 L162.39,392.32 L164.79,392.32 L167.18,401.30 L169.58,398.31 L171.97,398.91 L174.37,398.91 L176.76,392.92 L179.16,394.12 L181.55,391.72 L183.95,389.33 L186.34,382.74 L188.74,393.52 L191.13,390.52 L193.52,389.33 L195.92,386.33 L198.31,384.54 L200.71,378.55 L203.10,386.33 L205.50,382.74 L207.89,387.53 L210.29,377.95" fill="none" stroke="#ffa500" stroke-width="1.45" stroke-linejoin="round"/>
<path d="M115.35,379.17 L117.39,377.97 L119.79,380.36 L122.18,385.76 L124.58,379.17 L126.98,376.17 L129.37,382.16 L131.77,376.77 L134.17,386.71 L136.56,385.76 L138.96,378.57 L141.36,382.76 L143.75,375.57 L146.15,389.35 L148.18,392.95 L150.34,381.56 L152.98,381.56 L155.73,364.79 L158.13,372.58 L160.53,395.94 L160.00,395.31 L162.39,395.91 L164.79,398.31 L167.42,406.69 L169.58,395.31 L171.97,385.74 L174.37,387.53 L176.76,389.33 L179.16,388.37 L181.55,399.50 L183.95,390.52 L186.34,400.70 L188.74,394.12 L191.13,391.72 L193.52,398.31 L195.92,398.31 L198.31,391.72 L200.71,395.31 L203.10,392.92 L205.50,392.32 L207.89,390.52 L210.29,386.93" fill="none" stroke="#1414f0" stroke-width="1.45" stroke-linejoin="round"/>
<rect x="321.10" y="360.10" width="8.70" height="48.00" fill="#e4e4e4"/>
<path d="M274.50,358.30V408.90H376.80" fill="none" stroke="#939393" stroke-width="0.85"/>
<path d="M272.10,366.20H274.50" stroke="#939393" stroke-width="0.8"/>
<text transform="translate(269.70,368.35) scale(0.955,1)" x="0" y="0" font-size="6.1" text-anchor="end" fill="#111" stroke="#111" stroke-width="0.1">1.0</text>
<path d="M272.10,374.98H274.50" stroke="#939393" stroke-width="0.8"/>
<text transform="translate(269.70,377.12) scale(0.955,1)" x="0" y="0" font-size="6.1" text-anchor="end" fill="#111" stroke="#111" stroke-width="0.1">0.9</text>
<path d="M272.10,383.75H274.50" stroke="#939393" stroke-width="0.8"/>
<text transform="translate(269.70,385.90) scale(0.955,1)" x="0" y="0" font-size="6.1" text-anchor="end" fill="#111" stroke="#111" stroke-width="0.1">0.8</text>
<path d="M272.10,392.52H274.50" stroke="#939393" stroke-width="0.8"/>
<text transform="translate(269.70,394.67) scale(0.955,1)" x="0" y="0" font-size="6.1" text-anchor="end" fill="#111" stroke="#111" stroke-width="0.1">0.7</text>
<path d="M272.10,401.30H274.50" stroke="#939393" stroke-width="0.8"/>
<text transform="translate(269.70,403.45) scale(0.955,1)" x="0" y="0" font-size="6.1" text-anchor="end" fill="#111" stroke="#111" stroke-width="0.1">0.6</text>
<path d="M277.80,408.90V411.30" stroke="#939393" stroke-width="0.8"/>
<text transform="translate(277.80,417.10) scale(0.955,1)" x="0" y="0" font-size="6.1" text-anchor="middle" fill="#111" stroke="#111" stroke-width="0.1">-2000</text>
<path d="M301.55,408.90V411.30" stroke="#939393" stroke-width="0.8"/>
<text transform="translate(301.55,417.10) scale(0.955,1)" x="0" y="0" font-size="6.1" text-anchor="middle" fill="#111" stroke="#111" stroke-width="0.1">-1000</text>
<path d="M325.30,408.90V411.30" stroke="#939393" stroke-width="0.8"/>
<text transform="translate(325.30,417.10) scale(0.955,1)" x="0" y="0" font-size="6.1" text-anchor="middle" fill="#111" stroke="#111" stroke-width="0.1">0</text>
<path d="M349.05,408.90V411.30" stroke="#939393" stroke-width="0.8"/>
<text transform="translate(349.05,417.10) scale(0.955,1)" x="0" y="0" font-size="6.1" text-anchor="middle" fill="#111" stroke="#111" stroke-width="0.1">1000</text>
<path d="M372.80,408.90V411.30" stroke="#939393" stroke-width="0.8"/>
<text transform="translate(372.80,417.10) scale(0.955,1)" x="0" y="0" font-size="6.1" text-anchor="middle" fill="#111" stroke="#111" stroke-width="0.1">2000</text>
<text transform="translate(325.30,426.40) scale(0.955,1)" x="0" y="0" font-size="6.1" text-anchor="middle" fill="#111" stroke="#111" stroke-width="0.1">Relative distance to origin (bp)</text>
<text transform="translate(252.60,383.60) rotate(-90) scale(0.955,1)" x="0" y="0" font-size="6.1" text-anchor="middle" fill="#111" stroke="#111" stroke-width="0.1">MPKM</text>
<text x="325.30" y="353.00" font-size="11.6" text-anchor="middle" font-weight="bold" fill="#000" >C&gt;T</text>
<text transform="translate(243.10,347.50) scale(0.796,1)" x="-1.01" y="0" font-size="12.3" fill="#000" stroke="#000" stroke-width="0.15">K</text>
<path d="M256.80,341.60h8.2" stroke="#ffa500" stroke-width="1.5"/>
<path d="M256.80,346.10h8.2" stroke="#1414f0" stroke-width="1.5"/>
<text x="268.00" y="343.10" font-size="3.9" text-anchor="start" font-weight="normal" fill="#444" stroke="#444" stroke-width="0.12" >C&gt;T</text>
<text x="268.00" y="347.60" font-size="3.9" text-anchor="start" font-weight="normal" fill="#444" stroke="#444" stroke-width="0.12" >G&gt;A</text>
<path d="M278.00,389.35 L280.39,377.61 L282.79,385.16 L285.18,383.36 L287.58,390.55 L289.98,385.52 L292.37,393.54 L294.77,384.32 L297.17,391.15 L299.56,389.95 L301.96,392.71 L304.36,395.94 L306.75,399.54 L309.15,394.14 L311.18,402.29 L313.58,386.36 L315.98,390.55 L318.37,391.15 L320.77,400.13 L323.53,404.93 L325.00,398.31 L327.39,392.92 L329.79,392.92 L332.42,389.93 L334.82,379.15 L336.97,385.14 L339.37,378.31 L341.76,380.95 L344.16,386.69 L346.55,389.33 L348.95,388.37 L351.34,383.94 L353.74,383.34 L356.13,378.55 L358.52,394.72 L360.92,368.37 L363.31,382.74 L365.71,378.55 L368.10,377.95 L370.50,373.76 L372.89,382.74" fill="none" stroke="#ffa500" stroke-width="1.45" stroke-linejoin="round"/>
<path d="M278.00,384.80 L280.39,383.96 L282.79,380.36 L285.18,376.17 L287.58,364.19 L289.98,378.57 L292.37,380.36 L294.77,384.32 L297.17,380.36 L299.56,385.76 L301.96,379.17 L304.36,386.36 L306.75,384.32 L309.15,382.76 L311.18,385.76 L313.58,382.16 L315.98,379.77 L318.37,386.95 L320.77,398.34 L323.53,406.72 L325.00,403.10 L327.39,399.50 L329.79,398.91 L332.42,375.92 L334.82,383.10 L336.97,380.35 L339.37,386.33 L341.76,386.93 L344.16,390.29 L346.55,393.52 L348.95,396.27 L351.34,395.07 L353.74,385.74 L356.13,383.34 L358.52,385.74 L360.92,391.72 L363.31,379.15 L365.71,379.75 L368.10,374.72 L370.50,385.14 L372.89,371.13" fill="none" stroke="#1414f0" stroke-width="1.45" stroke-linejoin="round"/>
<rect x="481.10" y="360.10" width="4.60" height="48.00" fill="#e4e4e4"/>
<path d="M436.80,358.30V408.90H539.00" fill="none" stroke="#939393" stroke-width="0.85"/>
<path d="M434.40,367.00H436.80" stroke="#939393" stroke-width="0.8"/>
<text transform="translate(432.00,369.15) scale(0.955,1)" x="0" y="0" font-size="6.1" text-anchor="end" fill="#111" stroke="#111" stroke-width="0.1">1.0</text>
<path d="M434.40,376.12H436.80" stroke="#939393" stroke-width="0.8"/>
<text transform="translate(432.00,378.27) scale(0.955,1)" x="0" y="0" font-size="6.1" text-anchor="end" fill="#111" stroke="#111" stroke-width="0.1">0.9</text>
<path d="M434.40,385.25H436.80" stroke="#939393" stroke-width="0.8"/>
<text transform="translate(432.00,387.40) scale(0.955,1)" x="0" y="0" font-size="6.1" text-anchor="end" fill="#111" stroke="#111" stroke-width="0.1">0.8</text>
<path d="M434.40,394.38H436.80" stroke="#939393" stroke-width="0.8"/>
<text transform="translate(432.00,396.52) scale(0.955,1)" x="0" y="0" font-size="6.1" text-anchor="end" fill="#111" stroke="#111" stroke-width="0.1">0.7</text>
<path d="M434.40,403.50H436.80" stroke="#939393" stroke-width="0.8"/>
<text transform="translate(432.00,405.65) scale(0.955,1)" x="0" y="0" font-size="6.1" text-anchor="end" fill="#111" stroke="#111" stroke-width="0.1">0.6</text>
<path d="M440.40,408.90V411.30" stroke="#939393" stroke-width="0.8"/>
<text transform="translate(440.40,417.10) scale(0.955,1)" x="0" y="0" font-size="6.1" text-anchor="middle" fill="#111" stroke="#111" stroke-width="0.1">-2000</text>
<path d="M464.05,408.90V411.30" stroke="#939393" stroke-width="0.8"/>
<text transform="translate(464.05,417.10) scale(0.955,1)" x="0" y="0" font-size="6.1" text-anchor="middle" fill="#111" stroke="#111" stroke-width="0.1">-1000</text>
<path d="M487.70,408.90V411.30" stroke="#939393" stroke-width="0.8"/>
<text transform="translate(487.70,417.10) scale(0.955,1)" x="0" y="0" font-size="6.1" text-anchor="middle" fill="#111" stroke="#111" stroke-width="0.1">0</text>
<path d="M511.35,408.90V411.30" stroke="#939393" stroke-width="0.8"/>
<text transform="translate(511.35,417.10) scale(0.955,1)" x="0" y="0" font-size="6.1" text-anchor="middle" fill="#111" stroke="#111" stroke-width="0.1">1000</text>
<path d="M535.00,408.90V411.30" stroke="#939393" stroke-width="0.8"/>
<text transform="translate(535.00,417.10) scale(0.955,1)" x="0" y="0" font-size="6.1" text-anchor="middle" fill="#111" stroke="#111" stroke-width="0.1">2000</text>
<text transform="translate(487.70,426.40) scale(0.955,1)" x="0" y="0" font-size="6.1" text-anchor="middle" fill="#111" stroke="#111" stroke-width="0.1">Relative distance to origin (bp)</text>
<text transform="translate(415.60,383.60) rotate(-90) scale(0.955,1)" x="0" y="0" font-size="6.1" text-anchor="middle" fill="#111" stroke="#111" stroke-width="0.1">MPKM</text>
<text x="487.70" y="353.00" font-size="11.6" text-anchor="middle" font-weight="bold" fill="#000" >C&gt;T</text>
<text transform="translate(407.10,345.30) scale(0.702,1)" x="-1.01" y="0" font-size="12.3" fill="#000" stroke="#000" stroke-width="0.15">L</text>
<path d="M420.20,341.60h8.2" stroke="#ffa500" stroke-width="1.5"/>
<path d="M420.20,346.10h8.2" stroke="#1414f0" stroke-width="1.5"/>
<text x="431.40" y="343.10" font-size="3.9" text-anchor="start" font-weight="normal" fill="#444" stroke="#444" stroke-width="0.12" >C&gt;T</text>
<text x="431.40" y="347.60" font-size="3.9" text-anchor="start" font-weight="normal" fill="#444" stroke="#444" stroke-width="0.12" >G&gt;A</text>
<path d="M440.40,386.95 L442.79,386.36 L445.19,386.95 L447.59,392.95 L449.98,383.12 L452.38,388.15 L454.77,394.74 L457.17,397.14 L459.57,398.94 L461.96,401.09 L464.36,406.13 L466.76,397.14 L469.15,396.54 L471.55,392.35 L473.95,387.55 L476.34,390.55 L478.74,391.15 L481.13,406.13 L483.53,396.54 L485.93,391.15 L488.00,388.73 L490.39,385.74 L492.79,370.17 L495.18,365.38 L497.58,385.14 L499.97,386.33 L502.37,382.74 L504.76,391.72 L507.16,380.35 L509.55,383.94 L511.95,373.16 L514.34,379.15 L516.74,384.54 L519.37,383.94 L521.76,379.15 L523.92,376.76 L526.31,371.37 L528.71,378.55 L531.10,373.76 L533.50,371.97 L535.89,376.16" fill="none" stroke="#ffa500" stroke-width="1.45" stroke-linejoin="round"/>
<path d="M440.40,364.19 L442.79,377.97 L445.19,379.77 L447.59,383.60 L449.98,388.75 L452.38,382.76 L454.77,392.95 L457.17,382.16 L459.57,392.35 L461.96,386.95 L464.36,386.00 L466.76,385.52 L469.15,385.76 L471.55,395.58 L473.95,385.76 L476.34,391.15 L478.74,378.33 L481.13,402.29 L483.53,401.57 L485.93,391.75 L488.00,386.93 L490.39,383.94 L492.79,371.97 L495.18,371.37 L497.58,383.94 L499.97,385.74 L502.37,385.74 L504.76,394.12 L507.16,382.74 L509.55,389.33 L511.95,382.74 L514.34,386.93 L516.74,389.09 L519.37,373.76 L521.76,382.14 L523.92,383.10 L526.31,377.35 L528.71,385.74 L531.10,382.14 L533.50,387.53 L535.89,380.35" fill="none" stroke="#1414f0" stroke-width="1.45" stroke-linejoin="round"/>
</svg>
</body></html>
